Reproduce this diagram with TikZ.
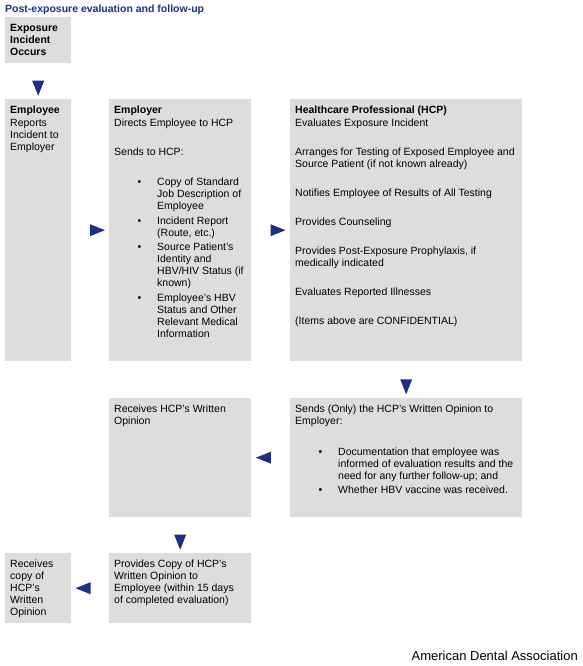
\documentclass[tikz,border=0pt]{standalone}
\usepackage{fontspec}
\setmainfont{Liberation Sans}
\usepackage{enumitem}
\usetikzlibrary{shapes.geometric}

\definecolor{boxgray}{RGB}{221,221,221}
\definecolor{adanavy}{RGB}{30,48,124}
\setlist[itemize]{label=\textbullet, leftmargin=43pt, labelsep=16pt, parsep=0pt, partopsep=0pt}
\newcommand{\cellbody}[3]{\parbox[t][#2pt][t]{#1pt}{\raggedright\rule{0pt}{14.5pt}#3}}

\begin{document}
\begin{tikzpicture}[x=1pt,y=-1pt,
		cell/.style={fill=boxgray, anchor=north west, inner xsep=5pt, inner ysep=0pt, font=\fontsize{10.5}{12}\selectfont},
		tip/.style={isosceles triangle, isosceles triangle stretches, fill=adanavy, inner sep=0pt, minimum width=12pt, minimum height=15pt},
		tipright/.style={tip, shape border rotate=0},
		tipdown/.style={tip, shape border rotate=-90},
		tipleft/.style={tip, shape border rotate=180}]
				\useasboundingbox (0,0) rectangle (582,666);
				\node[anchor=base west, inner sep=0pt, text=adanavy, font=\bfseries\fontsize{10.5}{12}\selectfont] (title) at (5,13) {Post-exposure evaluation and follow-up};
				% top row
				\node[cell] (occurs) at (5,17) {\cellbody{56}{46}{\bfseries Exposure\\ Incident\\ Occurs}};
				\node[cell] (employee) at (5,99) {\cellbody{56}{262}{{\bfseries Employee}\\[1pt] Reports\\ Incident to\\ Employer}};
				\node[cell] (employer) at (109,99) {\cellbody{132}{262}{{\bfseries Employer}\\[1pt] Directs Employee to HCP\\[17pt] Sends to HCP:
					\begin{itemize}[topsep=18pt, itemsep=2.5pt]
						\item Copy of Standard\\ Job Description of\\ Employee
						\item Incident Report\\ (Route, etc.)
						\item Source Patient's\\ Identity and\\ HBV/HIV Status (if\\ known)
						\item Employee's HBV\\ Status and Other\\ Relevant Medical\\ Information
					\end{itemize}}};
				\node[cell] (hcp) at (290,99) {\cellbody{222}{262}{{\bfseries Healthcare Professional (HCP)}\\[1pt] Evaluates Exposure Incident\\[17pt]
					Arranges for Testing of Exposed Employee and\\ Source Patient (if not known already)\\[17pt]
					Notifies Employee of Results of All Testing\\[17pt]
					Provides Counseling\\[17pt]
					Provides Post-Exposure Prophylaxis, if\\ medically indicated\\[17pt]
					Evaluates Reported Illnesses\\[17pt]
					(Items above are CONFIDENTIAL)}};
				% middle row
				\node[cell] (sends) at (290,398) {\cellbody{222}{119}{Sends (Only) the HCP's Written Opinion to\\ Employer:
					\begin{itemize}[topsep=19pt, itemsep=2pt]
						\item Documentation that employee was\\ informed of evaluation results and the\\ need for any further follow-up; and
						\item Whether HBV vaccine was received.
					\end{itemize}}};
				\node[cell] (receives) at (109,398) {\cellbody{132}{119}{Receives HCP's Written\\ Opinion}};
				% bottom row
				\node[cell] (provides) at (109,553) {\cellbody{132}{70}{Provides Copy of HCP's\\ Written Opinion to\\ Employee (within 15 days\\ of completed evaluation)}};
				\node[cell] (copy) at (5,553) {\cellbody{56}{70}{Receives\\ copy of\\ HCP's\\ Written\\ Opinion}};
				% flow
				\path (occurs) -- (employee) node[tipdown, pos=0.6] (t1) {};
				\path (employee) -- (employer) node[tipright, pos=0.6] (t2) {};
				\path (employer) -- (hcp) node[tipright, pos=0.6] (t3) {};
				\path (hcp) -- (sends) node[tipdown, pos=0.6] (t4) {};
				\path (sends) -- (receives) node[tipleft, pos=0.6] (t5) {};
				\path (receives) -- (provides) node[tipdown, pos=0.6] (t6) {};
				\path (provides) -- (copy) node[tipleft, pos=0.6] (t7) {};
				\node[anchor=base east, inner sep=0pt, font=\fontsize{13}{15}\selectfont] (ada) at (578,660) {American Dental Association};
			\end{tikzpicture}
\end{document}
